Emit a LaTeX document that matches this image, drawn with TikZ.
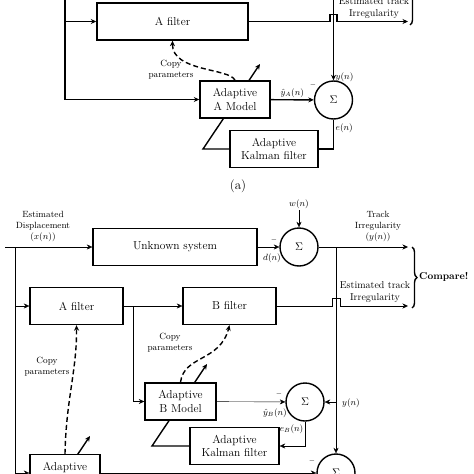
\documentclass[tikz,border=0pt]{standalone}
\usepackage{amsmath}
\usetikzlibrary{arrows.meta,decorations.pathreplacing,backgrounds,positioning}

\tikzset{
	wire/.style={line width=1.4pt},
	block/.style={draw, wire, fill=white, align=center, minimum height=37pt, inner sep=2pt, font=\fontsize{11.5}{13.5}\selectfont},
	sum/.style={draw, wire, circle, fill=white, minimum size=38pt, inner sep=0pt, font=\fontsize{11}{13}\selectfont},
	note/.style={align=center, inner sep=1pt, font=\fontsize{9}{11}\selectfont},
	lbl/.style={inner sep=1.5pt, font=\fontsize{9}{11}\selectfont},
	minus/.style={inner sep=0pt, font=\scriptsize},
	copy/.style={wire, dash pattern=on 5pt off 3pt},
	brace/.style={wire, decorate, decoration={brace, amplitude=5pt}}
}

\begin{document}
\begin{tikzpicture}[x=1pt, y=-1pt, wire, >={Stealth[length=5.5pt,width=5pt]}, auto]
	\useasboundingbox (0,0) rectangle (474,474);
	\clip (0,0) rectangle (474,474);

	% (a)
	\node[block, minimum width=151pt] (Af) at (172.5,21.5) {A filter};
	\node[block, minimum width=70pt] (Am) at (235,99.5) {Adaptive\\A Model};
	\node[sum] (Sa) at (333.5,100) {$\Sigma$};
	\node[block, minimum width=88pt] (Ka) at (274,149) {Adaptive\\Kalman filter};
	\node[note] (Ca) at (171,70) {Copy\\parameters};
	\node[note, anchor=south, font=\fontsize{10}{12}\selectfont] (Ea) at (374,20) {Estimated track\\Irregularity};
	\node[minus] (ma) at (313,85) {$-$};
	\node (capa) at (238,186) {\fontsize{13}{15}\selectfont(a)};

	\coordinate (ina) at (65,0);
	\coordinate (ja) at (65,21.5);
	\coordinate (oa) at (408,21.5);
	\coordinate (ya) at (333.5,0);
	\coordinate (ka) at (203,149);
	\coordinate (ta) at (260,64);

	\draw[->] (ina) |- (Am.west);
	\draw[->] (ja) -- (Af.west);
	\draw[->] (Af.east) -- (330,21.5) -- ++(0,-7) -- ++(7,0) -- ++(0,7) -- (oa);
	\draw[->] (ya) -- node[lbl, pos=0.96, right] {$y(n)$} (Sa);
	\draw[->] (Am) -- node[lbl] {$\hat{y}_A(n)$} (Sa);
	\draw (Sa.south) |- node[lbl, pos=0.15, right] {$e(n)$} (Ka.east);
	\draw[->, copy] (Am.north) .. controls (230,68) and (172,72) .. (Af.south);
	\begin{pgfonlayer}{background}
		\draw[->, wire] (Ka.west) -- (ka) -- (ta);
	\end{pgfonlayer}
	\draw[brace] (410,-36) -- (410,25);

	% (b)
	\node[block, minimum width=164pt] (Us) at (175,247) {Unknown system};
	\node[sum] (Sb) at (299,247) {$\Sigma$};
	\node[block, minimum width=93pt] (Af2) at (76.5,306) {A filter};
	\node[block, minimum width=93pt] (Bf) at (229.5,306) {B filter};
	\node[block, minimum width=71pt] (Bm) at (180.5,401.5) {Adaptive\\B Model};
	\node[sum] (Sc) at (305,402) {$\Sigma$};
	\node[block, minimum width=89pt] (Kb) at (234.5,446) {Adaptive\\Kalman filter};
	\node[block, minimum width=70pt] (Am2) at (65,473) {Adaptive\\A Model};
	\node[sum] (Sd) at (336,473) {$\Sigma$};

	\node[note, anchor=south] (Ex) at (43,243) {Estimated\\Displacement\\$(x(n))$};
	\node[note, anchor=south] (Ty) at (378,243) {Track\\Irregularity\\$(y(n))$};
	\node[note, anchor=south, font=\fontsize{10}{12}\selectfont] (Eb) at (375,304) {Estimated track\\Irregularity};
	\node[note, font=\bfseries\fontsize{10}{12}\selectfont, anchor=west] (Cp) at (418,277) {Compare!};
	\node[note] (Cb) at (170,343) {Copy\\parameters};
	\node[note] (Cc) at (47,367) {Copy\\parameters};
	\node[lbl] (w) at (299,204) {$w(n)$};
	\node[lbl] (yb) at (351,403) {$y(n)$};
	\node[lbl] (db) at (272,258) {$d(n)$};
	\node[lbl] (yhb) at (275,413) {$\hat{y}_B(n)$};
	\node[minus] (mb) at (274,240) {$-$};
	\node[minus] (mc) at (279,394) {$-$};
	\node[minus] (md) at (312,461) {$-$};

	\coordinate (inb) at (5,247);
	\coordinate (jb) at (15,247);
	\coordinate (jc) at (15,306);
	\coordinate (ob) at (408,247);
	\coordinate (jd) at (336,247);
	\coordinate (je) at (336,402);
	\coordinate (jf) at (133,306);
	\coordinate (ob2) at (408,306);
	\coordinate (kb) at (152,446);
	\coordinate (tb) at (207,364);
	\coordinate (kc) at (47,500);
	\coordinate (tc) at (90,436);

	\draw[->] (inb) -- (Us);
	\draw[->] (jb) |- (Am2.west);
	\draw[->] (jc) -- (Af2.west);
	\draw[->] (Us) -- (Sb);
	\draw[->] (w) -- (Sb);
	\draw[->] (Sb) -- (ob);
	\draw[->] (jd) -- (Sd);
	\draw[->] (je) -- (Sc);
	\draw[->] (Af2) -- (Bf);
	\draw[->] (jf) |- (Bm);
	\draw[->] (Bf.east) -- (332,306) -- ++(0,-8) -- ++(8,0) -- ++(0,8) -- (ob2);
	\draw[->] (Bm) -- (Sc);
	\draw[->] (Sc.south) |- node[lbl, swap, pos=0.15] {$e_B(n)$} (Kb.east);
	\draw[->] (Am2) -- (Sd);
	\draw[->, copy] (Bm.north) .. controls (184,355) and (220,362) .. (Bf.south);
	\draw[->, copy] (Am2.north) .. controls (66,400) and (77,370) .. (Af2.south);
	\begin{pgfonlayer}{background}
		\draw[->, wire] (Kb.west) -- (kb) -- (tb);
		\draw[->, wire] (kc) -- (tc);
	\end{pgfonlayer}
	\draw[brace] (412,247) -- (412,308);
\end{tikzpicture}
\end{document}
